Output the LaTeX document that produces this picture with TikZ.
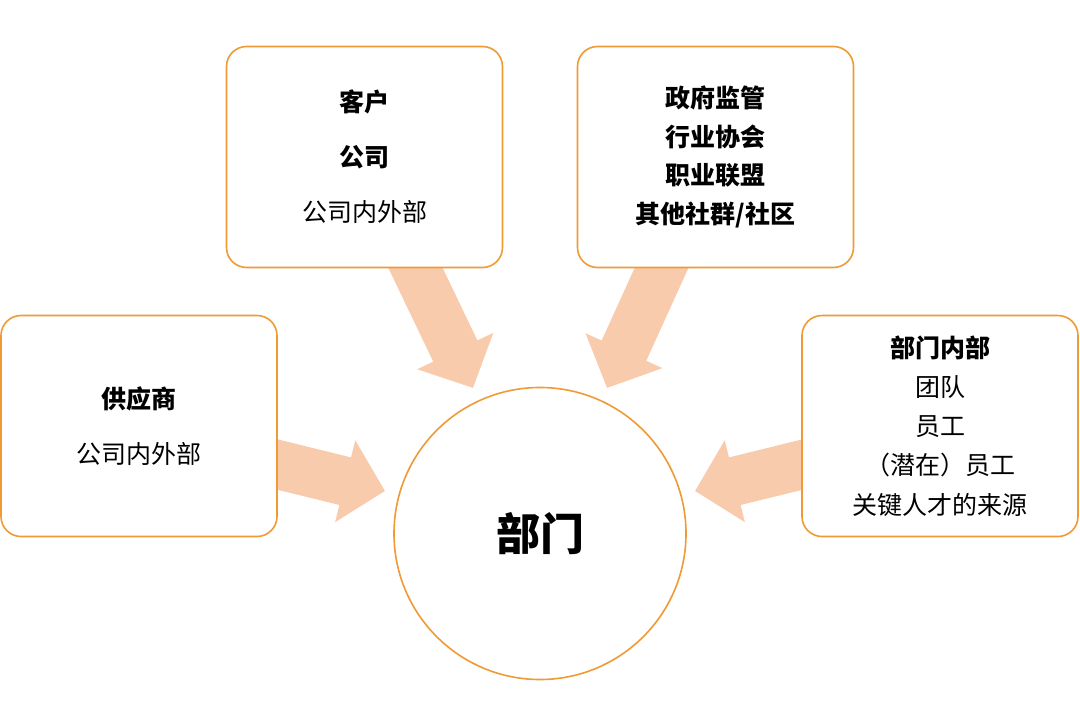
\documentclass[tikz,border=0pt]{standalone}
\usepackage{fontspec}
\setmainfont{Noto Sans CJK SC}
\usetikzlibrary{arrows.meta}
\definecolor{boxline}{HTML}{F09A35}
\definecolor{arrowfill}{HTML}{F8CBAD}
\tikzset{
  srcbox/.style={draw=boxline, line width=1.6pt, fill=white, rounded corners=20pt,
    minimum width=276pt, minimum height=221pt, align=center, text=black, inner sep=0pt},
  bigarrow/.style={draw=arrowfill, line width=49pt,
    -{Triangle[length=41pt, width=82pt, fill=arrowfill]}},
  hub/.style={draw=boxline, line width=1.6pt, fill=white, circle, minimum size=292pt, inner sep=0pt}
}
\begin{document}
\begin{tikzpicture}[x=1pt,y=-1pt]
\useasboundingbox (0,0) rectangle (1080,726);
% arrow coordinates
\coordinate (la) at (190.8,443.2);
\coordinate (lt) at (385,491);
\coordinate (ra) at (889.2,443.2);
\coordinate (rt) at (695,491);
\coordinate (tla) at (386.6,207.6);
\coordinate (tlt) at (473,388);
\coordinate (tra) at (689.7,205.9);
\coordinate (trt) at (607,388);
\draw[bigarrow] (la) -- (lt);
\draw[bigarrow] (ra) -- (rt);
\draw[bigarrow] (tla) -- (tlt);
\draw[bigarrow] (tra) -- (trt);
% boxes
\node[srcbox, font=\fontsize{25}{55}\selectfont] (kehu) at (364.5,157) {\textbf{客户}\\\textbf{公司}\\公司内外部};
\node[srcbox, font=\fontsize{25}{38.5}\selectfont] (zhengfu) at (715.5,157) {\textbf{政府监管}\\\textbf{行业协会}\\\textbf{职业联盟}\\\textbf{其他社群/社区}};
\node[srcbox, font=\fontsize{25}{55}\selectfont] (gongying) at (139,426) {\textbf{供应商}\\公司内外部};
\node[srcbox, font=\fontsize{25}{39.2}\selectfont] (neibu) at (940,426) {\textbf{部门内部}\\团队\\员工\\（潜在）员工\\关键人才的来源};
\node[hub, font=\fontsize{44}{50}\selectfont\bfseries] (bumen) at (540,533.5) {部门};
\end{tikzpicture}
\end{document}
